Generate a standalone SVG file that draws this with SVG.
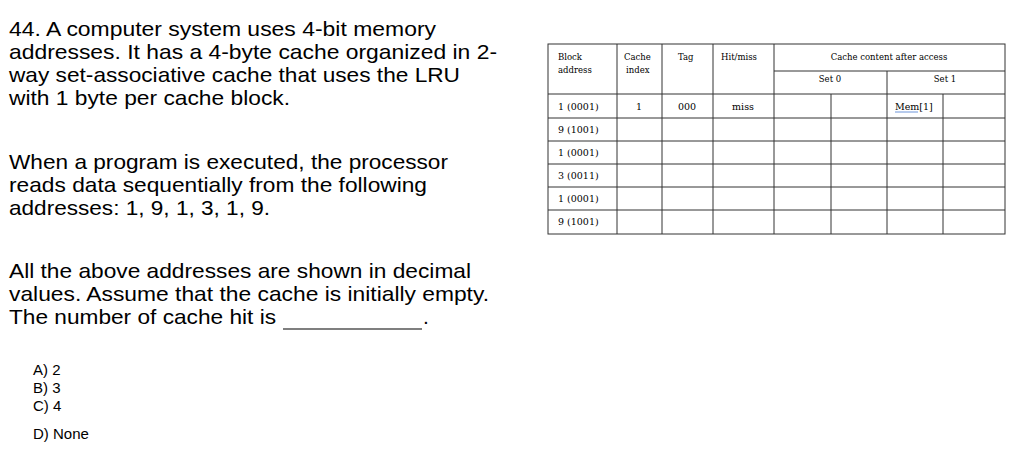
<svg xmlns="http://www.w3.org/2000/svg" width="1024" height="451" viewBox="0 0 1024 451">
<style>
.q{font-family:"Liberation Sans",Arial,sans-serif;font-size:21px;fill:#000}
.a{font-family:"Liberation Sans",Arial,sans-serif;font-size:15px;fill:#000}
.t{font-family:"DejaVu Serif","Liberation Serif",serif;font-size:9.5px;fill:#000}
.h{font-family:"DejaVu Serif","Liberation Serif",serif;font-size:8.5px;fill:#000}
line{stroke:#333;stroke-width:1}
</style>
<rect width="1024" height="451" fill="#fff"/>
<g id="question">
<text class="q" x="9" y="36" textLength="427" lengthAdjust="spacingAndGlyphs">44. A computer system uses 4-bit memory</text>
<text class="q" x="9" y="59" textLength="488" lengthAdjust="spacingAndGlyphs">addresses. It has a 4-byte cache organized in 2-</text>
<text class="q" x="9" y="82" textLength="451" lengthAdjust="spacingAndGlyphs">way set-associative cache that uses the LRU</text>
<text class="q" x="9" y="105" textLength="281" lengthAdjust="spacingAndGlyphs">with 1 byte per cache block.</text>
<text class="q" x="9" y="169" textLength="439" lengthAdjust="spacingAndGlyphs">When a program is executed, the processor</text>
<text class="q" x="9" y="192" textLength="418" lengthAdjust="spacingAndGlyphs">reads data sequentially from the following</text>
<text class="q" x="9" y="215" textLength="261" lengthAdjust="spacingAndGlyphs">addresses: 1, 9, 1, 3, 1, 9.</text>
<text class="q" x="9" y="278" textLength="462" lengthAdjust="spacingAndGlyphs">All the above addresses are shown in decimal</text>
<text class="q" x="9" y="301" textLength="480" lengthAdjust="spacingAndGlyphs">values. Assume that the cache is initially empty.</text>
<text class="q" x="9" y="324" textLength="267" lengthAdjust="spacingAndGlyphs">The number of cache hit is</text>
<line x1="283" y1="329" x2="422" y2="329" style="stroke:#000;stroke-width:1.2"/>
<text class="q" x="423" y="324">.</text>
<text class="a" x="33" y="375">A) 2</text>
<text class="a" x="33" y="393">B) 3</text>
<text class="a" x="33" y="411">C) 4</text>
<text class="a" x="33" y="439">D) None</text>
</g>
<g id="table">
<rect x="548" y="44" width="457" height="190" fill="none" stroke="#333"/>
<line x1="617" y1="44" x2="617" y2="234"/>
<line x1="662" y1="44" x2="662" y2="234"/>
<line x1="713" y1="44" x2="713" y2="234"/>
<line x1="774" y1="44" x2="774" y2="234"/>
<line x1="887" y1="71" x2="887" y2="234"/>
<line x1="831" y1="94" x2="831" y2="234"/>
<line x1="943" y1="94" x2="943" y2="234"/>
<line x1="774" y1="71" x2="1005" y2="71"/>
<line x1="548" y1="94" x2="1005" y2="94"/>
<line x1="548" y1="118" x2="1005" y2="118"/>
<line x1="548" y1="141" x2="1005" y2="141"/>
<line x1="548" y1="164" x2="1005" y2="164"/>
<line x1="548" y1="187" x2="1005" y2="187"/>
<line x1="548" y1="210" x2="1005" y2="210"/>
<text class="h" x="558" y="60">Block</text>
<text class="h" x="558" y="73">address</text>
<text class="h" x="624" y="60">Cache</text>
<text class="h" x="626" y="73">index</text>
<text class="h" x="678" y="60">Tag</text>
<text class="h" x="721" y="60">Hit/miss</text>
<text class="h" x="889" y="60" text-anchor="middle">Cache content after access</text>
<text class="h" x="830" y="82" text-anchor="middle">Set 0</text>
<text class="h" x="945" y="82" text-anchor="middle">Set 1</text>
<text class="t" x="558" y="110">1 (0001)</text>
<text class="t" x="558" y="133">9 (1001)</text>
<text class="t" x="558" y="156">1 (0001)</text>
<text class="t" x="558" y="179">3 (0011)</text>
<text class="t" x="558" y="202">1 (0001)</text>
<text class="t" x="558" y="225">9 (1001)</text>
<text class="t" x="639" y="110" text-anchor="middle">1</text>
<text class="t" x="687" y="110" text-anchor="middle">000</text>
<text class="t" x="743" y="110" text-anchor="middle">miss</text>
<text class="t" x="895" y="110">Mem[1]</text>
<line x1="895" y1="112" x2="918" y2="112" style="stroke:#4a7cd0;stroke-width:0.8"/>
</g>
</svg>
